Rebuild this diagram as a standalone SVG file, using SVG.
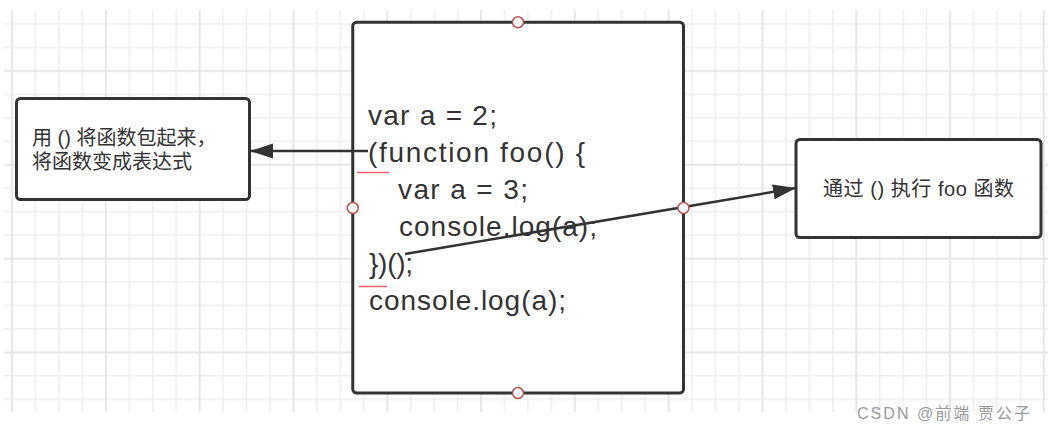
<svg xmlns="http://www.w3.org/2000/svg" width="1048" height="436" viewBox="0 0 1048 436">
  <style>
    .box { fill: #ffffff; stroke: #333333; stroke-width: 3; }
    .code { font-family: "Liberation Sans", "Noto Sans CJK SC", sans-serif; font-size: 28px; fill: #333333; }
    .label { font-family: "Liberation Sans", "Noto Sans CJK SC", sans-serif; font-size: 20px; fill: #333333; }
    .conn { fill: none; stroke: #333333; stroke-width: 2.5; marker-end: url(#arrow); }
    .handle { fill: #ffffff; stroke: #b5504e; stroke-width: 1.5; }
    .mark { stroke: #f0606a; stroke-width: 1.5; }
    .wm { font-family: "Liberation Sans", "Noto Sans CJK SC", sans-serif; font-size: 16px; fill: #9a9a9a; }
  </style>
  <defs>
    <pattern id="gridMinor" patternUnits="userSpaceOnUse" x="11.25" y="23.25" width="23.45" height="23.45">
      <path d="M0.75,0 V23.45 M0,0.75 H23.45" stroke="#eeeeee" stroke-width="1.5" fill="none"/>
    </pattern>
    <pattern id="gridMajor" patternUnits="userSpaceOnUse" x="105.05" y="70.25" width="93.8" height="93.8">
      <path d="M0.75,0 V93.8 M0,0.75 H93.8" stroke="#e4e4e4" stroke-width="1.5" fill="none"/>
    </pattern>
    <marker id="arrow" markerUnits="userSpaceOnUse" markerWidth="24" markerHeight="16" refX="23" refY="8" orient="auto">
      <path d="M0,0.5 L23,8 L0,15.5 Z" fill="#333333"/>
    </marker>
  </defs>

  <rect width="1048" height="436" fill="#ffffff"/>
  <g id="grid">
    <rect x="4" y="10" width="1044" height="402" fill="url(#gridMinor)"/>
    <rect x="4" y="10" width="1044" height="402" fill="url(#gridMajor)"/>
  </g>

  <g id="node-code">
    <rect class="box" x="352.75" y="22.25" width="330.75" height="370.75" rx="4"/>
    <text class="code" x="368" y="124.5" textLength="129" lengthAdjust="spacing">var a = 2;</text>
    <text class="code" x="368" y="161.5" textLength="217" lengthAdjust="spacing">(function foo() {</text>
    <text class="code" x="398" y="198.5" textLength="130" lengthAdjust="spacing">var a = 3;</text>
    <text class="code" x="399" y="235.5" textLength="198" lengthAdjust="spacing">console.log(a);</text>
    <text class="code" x="369" y="272.5" textLength="44" lengthAdjust="spacing">})();</text>
    <text class="code" x="369" y="309.5" textLength="197" lengthAdjust="spacing">console.log(a);</text>
    <line class="mark" x1="357" y1="172.5" x2="389" y2="172.5"/>
    <line class="mark" x1="359" y1="286.5" x2="387" y2="286.5"/>
  </g>

  <g id="node-wrap">
    <rect class="box" x="16.5" y="98.5" width="233" height="101" rx="4"/>
    <text class="label" x="32" y="145">用 () 将函数包起来，</text>
    <text class="label" x="32" y="169">将函数变成表达式</text>
  </g>

  <g id="node-call">
    <rect class="box" x="796" y="139.5" width="245" height="98" rx="4"/>
    <text class="label" x="823" y="195.5" textLength="191" lengthAdjust="spacing">通过 () 执行 foo 函数</text>
  </g>

  <g id="connectors">
    <path class="conn" d="M368,151 L250,151"/>
    <path class="conn" d="M405,254 L796,188"/>
  </g>

  <g id="handles">
    <circle class="handle" cx="518" cy="22.25" r="5.5"/>
    <circle class="handle" cx="352.75" cy="208" r="5.5"/>
    <circle class="handle" cx="683.5" cy="208" r="5.5"/>
    <circle class="handle" cx="518" cy="393" r="5.5"/>
  </g>

  <g id="watermark">
    <text class="wm" x="857" y="419" textLength="173" lengthAdjust="spacing">CSDN @前端 贾公子</text>
  </g>
</svg>
